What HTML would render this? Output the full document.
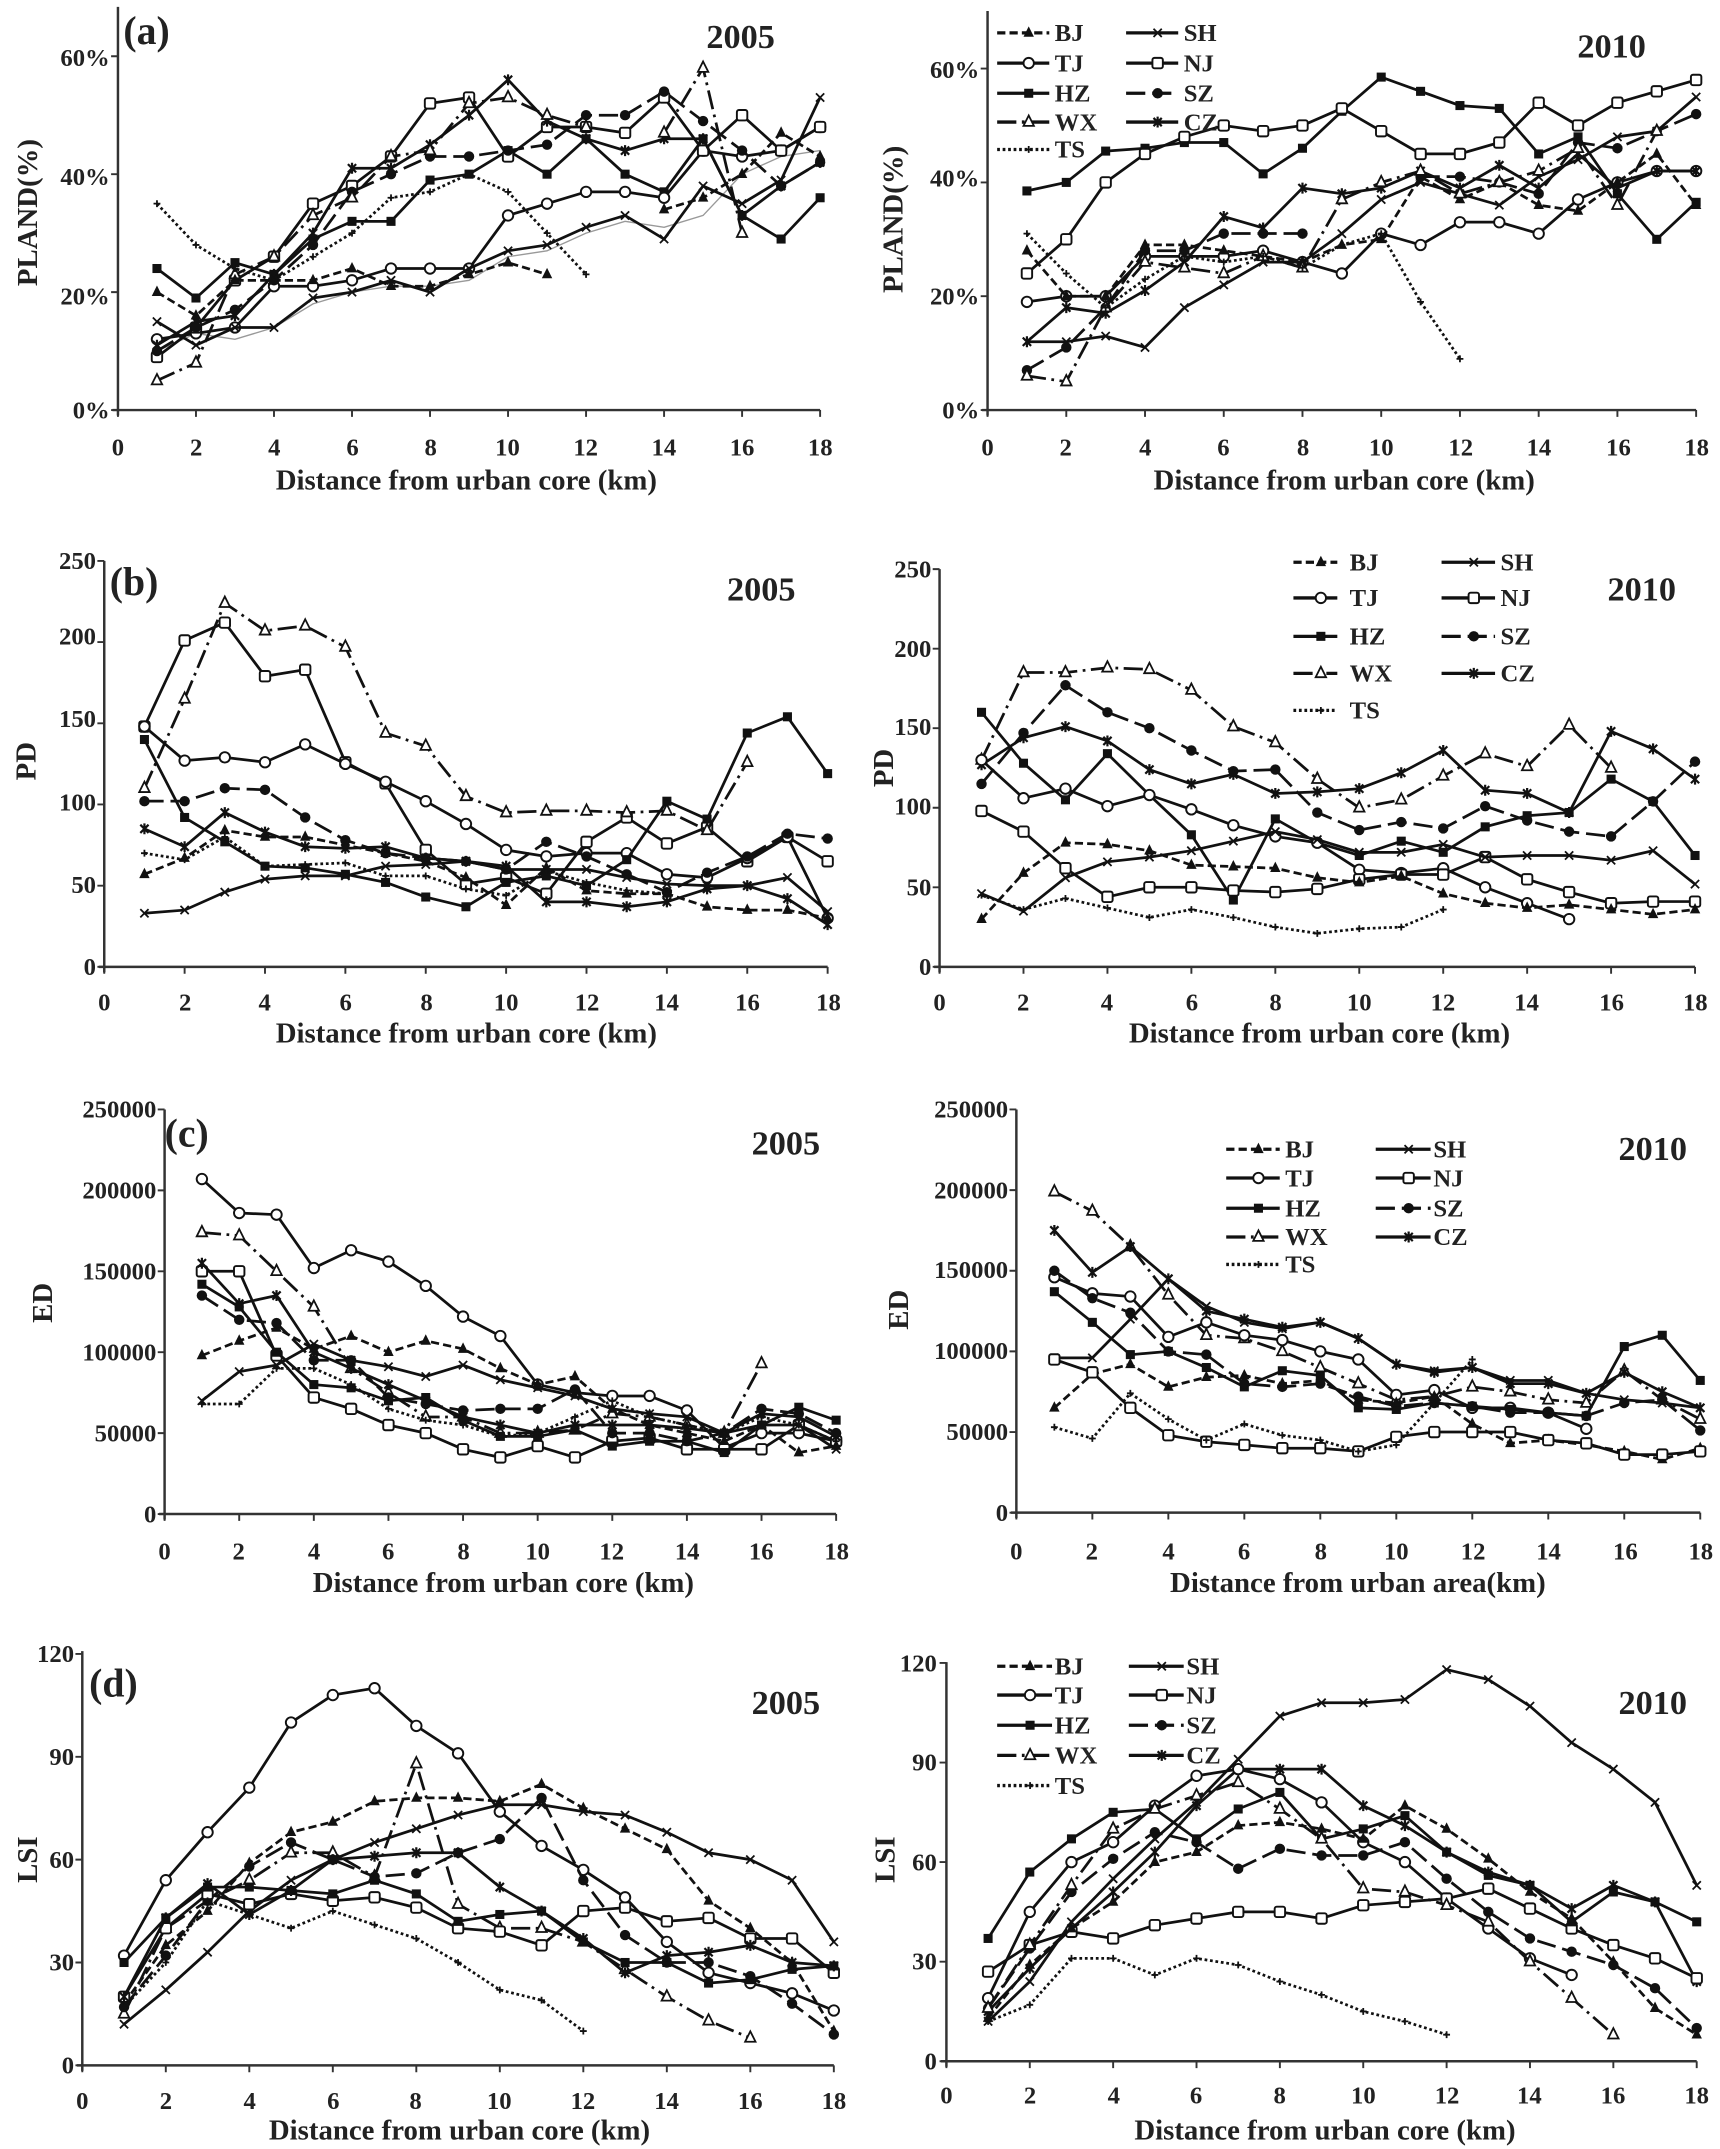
<!DOCTYPE html>
<html><head><meta charset="utf-8"><style>
html,body{margin:0;padding:0;background:#fff;}
svg{display:block;}
text{font-family:"Liberation Serif",serif;font-weight:bold;fill:#222;}
.tk{font-size:18px;}
.ax{font-size:21px;}
.yr{font-size:25px;}
.pl{font-size:29px;}
.lg{font-size:18px;}
</style></head><body>
<svg id="s" width="1720" height="2149" viewBox="0 0 1254 1567" preserveAspectRatio="none" xmlns="http://www.w3.org/2000/svg">
<rect width="1254" height="1567" fill="#fff"/>
<g id="plots"></g>
<text class="pl" x="90" y="32">(a)</text>
<text class="yr" x="515" y="35">2005</text>
<text class="yr" x="1150" y="42">2010</text>
<text class="pl" x="80" y="434">(b)</text>
<text class="yr" x="530" y="438">2005</text>
<text class="yr" x="1172" y="438">2010</text>
<text class="pl" x="120" y="836">(c)</text>
<text class="yr" x="548" y="842">2005</text>
<text class="yr" x="1180" y="846">2010</text>
<text class="pl" x="65" y="1237">(d)</text>
<text class="yr" x="548" y="1250">2005</text>
<text class="yr" x="1180" y="1250">2010</text>
<text class="ax" x="340" y="357" text-anchor="middle">Distance from urban core (km)</text>
<text class="ax" x="980" y="357" text-anchor="middle">Distance from urban core (km)</text>
<text class="ax" x="340" y="760" text-anchor="middle">Distance from urban core (km)</text>
<text class="ax" x="962" y="760" text-anchor="middle">Distance from urban core (km)</text>
<text class="ax" x="367" y="1161" text-anchor="middle">Distance from urban core (km)</text>
<text class="ax" x="990" y="1161" text-anchor="middle">Distance from urban area(km)</text>
<text class="ax" x="335" y="1560" text-anchor="middle">Distance from urban core (km)</text>
<text class="ax" x="966" y="1560" text-anchor="middle">Distance from urban core (km)</text>
<text class="ax" transform="translate(27,155) rotate(-90)" text-anchor="middle">PLAND(%)</text>
<text class="ax" transform="translate(658,160) rotate(-90)" text-anchor="middle">PLAND(%)</text>
<text class="ax" transform="translate(26,555) rotate(-90)" text-anchor="middle">PD</text>
<text class="ax" transform="translate(651,560) rotate(-90)" text-anchor="middle">PD</text>
<text class="ax" transform="translate(38,950) rotate(-90)" text-anchor="middle">ED</text>
<text class="ax" transform="translate(662,955) rotate(-90)" text-anchor="middle">ED</text>
<text class="ax" transform="translate(27,1356) rotate(-90)" text-anchor="middle">LSI</text>
<text class="ax" transform="translate(652,1356) rotate(-90)" text-anchor="middle">LSI</text>
<g class="tk" text-anchor="end">
<text x="80" y="305">0%</text><text x="80" y="222">20%</text><text x="80" y="135">40%</text><text x="80" y="48">60%</text>
<text x="714" y="305">0%</text><text x="714" y="222">20%</text><text x="714" y="136">40%</text><text x="714" y="57">60%</text>
<text x="70" y="711">0</text><text x="70" y="651">50</text><text x="70" y="591">100</text><text x="70" y="530">150</text><text x="70" y="470">200</text><text x="70" y="415">250</text>
<text x="679" y="711">0</text><text x="679" y="653">50</text><text x="679" y="594">100</text><text x="679" y="536">150</text><text x="679" y="479">200</text><text x="679" y="421">250</text>
<text x="114" y="1110">0</text><text x="114" y="1051">50000</text><text x="114" y="992">100000</text><text x="114" y="933">150000</text><text x="114" y="874">200000</text><text x="114" y="815">250000</text>
<text x="735" y="1109">0</text><text x="735" y="1050">50000</text><text x="735" y="991">100000</text><text x="735" y="932">150000</text><text x="735" y="874">200000</text><text x="735" y="815">250000</text>
<text x="54" y="1512">0</text><text x="54" y="1437">30</text><text x="54" y="1362">60</text><text x="54" y="1287">90</text><text x="54" y="1212">120</text>
<text x="683" y="1509">0</text><text x="683" y="1436">30</text><text x="683" y="1364">60</text><text x="683" y="1291">90</text><text x="683" y="1219">120</text>
</g>
<g class="tk" text-anchor="middle">
<text x="86" y="332">0</text><text x="143" y="332">2</text><text x="200" y="332">4</text><text x="257" y="332">6</text><text x="314" y="332">8</text><text x="370" y="332">10</text><text x="427" y="332">12</text><text x="484" y="332">14</text><text x="541" y="332">16</text><text x="598" y="332">18</text>
<text x="720" y="332">0</text><text x="777" y="332">2</text><text x="835" y="332">4</text><text x="892" y="332">6</text><text x="950" y="332">8</text><text x="1007" y="332">10</text><text x="1065" y="332">12</text><text x="1122" y="332">14</text><text x="1180" y="332">16</text><text x="1237" y="332">18</text>
<text x="76" y="737">0</text><text x="135" y="737">2</text><text x="193" y="737">4</text><text x="252" y="737">6</text><text x="311" y="737">8</text><text x="369" y="737">10</text><text x="428" y="737">12</text><text x="486" y="737">14</text><text x="545" y="737">16</text><text x="604" y="737">18</text>
<text x="685" y="737">0</text><text x="746" y="737">2</text><text x="807" y="737">4</text><text x="869" y="737">6</text><text x="930" y="737">8</text><text x="991" y="737">10</text><text x="1052" y="737">12</text><text x="1113" y="737">14</text><text x="1175" y="737">16</text><text x="1236" y="737">18</text>
<text x="120" y="1137">0</text><text x="174" y="1137">2</text><text x="229" y="1137">4</text><text x="283" y="1137">6</text><text x="338" y="1137">8</text><text x="392" y="1137">10</text><text x="446" y="1137">12</text><text x="501" y="1137">14</text><text x="555" y="1137">16</text><text x="610" y="1137">18</text>
<text x="741" y="1137">0</text><text x="796" y="1137">2</text><text x="852" y="1137">4</text><text x="907" y="1137">6</text><text x="963" y="1137">8</text><text x="1018" y="1137">10</text><text x="1074" y="1137">12</text><text x="1129" y="1137">14</text><text x="1185" y="1137">16</text><text x="1240" y="1137">18</text>
<text x="60" y="1538">0</text><text x="121" y="1538">2</text><text x="182" y="1538">4</text><text x="243" y="1538">6</text><text x="303" y="1538">8</text><text x="364" y="1538">10</text><text x="425" y="1538">12</text><text x="486" y="1538">14</text><text x="547" y="1538">16</text><text x="608" y="1538">18</text>
<text x="690" y="1534">0</text><text x="751" y="1534">2</text><text x="812" y="1534">4</text><text x="872" y="1534">6</text><text x="933" y="1534">8</text><text x="994" y="1534">10</text><text x="1055" y="1534">12</text><text x="1115" y="1534">14</text><text x="1176" y="1534">16</text><text x="1237" y="1534">18</text>
</g>
<g class="lg">
<text x="769" y="30">BJ</text><text x="863" y="30">SH</text>
<text x="769" y="52">TJ</text><text x="863" y="52">NJ</text>
<text x="769" y="74">HZ</text><text x="863" y="74">SZ</text>
<text x="769" y="95">WX</text><text x="863" y="95">CZ</text>
<text x="769" y="115">TS</text>
<text x="984" y="416">BJ</text><text x="1094" y="416">SH</text>
<text x="984" y="442">TJ</text><text x="1094" y="442">NJ</text>
<text x="984" y="470">HZ</text><text x="1094" y="470">SZ</text>
<text x="984" y="497">WX</text><text x="1094" y="497">CZ</text>
<text x="984" y="524">TS</text>
<text x="937" y="844">BJ</text><text x="1045" y="844">SH</text>
<text x="937" y="865">TJ</text><text x="1045" y="865">NJ</text>
<text x="937" y="887">HZ</text><text x="1045" y="887">SZ</text>
<text x="937" y="908">WX</text><text x="1045" y="908">CZ</text>
<text x="937" y="928">TS</text>
<text x="769" y="1221">BJ</text><text x="865" y="1221">SH</text>
<text x="769" y="1242">TJ</text><text x="865" y="1242">NJ</text>
<text x="769" y="1264">HZ</text><text x="865" y="1264">SZ</text>
<text x="769" y="1286">WX</text><text x="865" y="1286">CZ</text>
<text x="769" y="1308">TS</text>
</g>
</svg>
<script>
(function(){
var NS="http://www.w3.org/2000/svg",G=document.getElementById("plots");
function el(t,a){var e=document.createElementNS(NS,t);for(var k in a)e.setAttribute(k,a[k]);G.appendChild(e);return e;}
var ST={BJ:{d:"6,3",m:"tf"},SH:{d:"",m:"x"},TJ:{d:"",m:"co"},NJ:{d:"",m:"so"},HZ:{d:"",m:"sf"},SZ:{d:"14,5",m:"cf"},WX:{d:"14,4,2,4",m:"to"},CZ:{d:"",m:"ast"},TS:{d:"2,2",m:"p"},GR:{d:"",m:""}};
function mark(m,x,y){var r=3.8,s="#111";
 if(m=="tf")el("polygon",{points:(x)+","+(y-r-1)+" "+(x-r)+","+(y+r-1)+" "+(x+r)+","+(y+r-1),fill:s});
 else if(m=="to")el("polygon",{points:(x)+","+(y-r-1)+" "+(x-r)+","+(y+r-1)+" "+(x+r)+","+(y+r-1),fill:"#fff",stroke:s,"stroke-width":1.3});
 else if(m=="co")el("circle",{cx:x,cy:y,r:r,fill:"#fff",stroke:s,"stroke-width":1.4});
 else if(m=="cf")el("circle",{cx:x,cy:y,r:r,fill:s});
 else if(m=="so")el("rect",{x:x-r,y:y-r,width:2*r,height:2*r,rx:1.5,fill:"#fff",stroke:s,"stroke-width":1.4});
 else if(m=="sf")el("rect",{x:x-r+0.5,y:y-r+0.5,width:2*r-1,height:2*r-1,fill:s});
 else if(m=="x")el("path",{d:"M"+(x-3)+","+(y-3)+"L"+(x+3)+","+(y+3)+"M"+(x-3)+","+(y+3)+"L"+(x+3)+","+(y-3),stroke:s,"stroke-width":1.3});
 else if(m=="ast")el("path",{d:"M"+(x-3)+","+(y-3)+"L"+(x+3)+","+(y+3)+"M"+(x-3)+","+(y+3)+"L"+(x+3)+","+(y-3)+"M"+x+","+(y-4)+"L"+x+","+(y+4),stroke:s,"stroke-width":1.6});
 else if(m=="p")el("path",{d:"M"+(x-2.5)+","+y+"L"+(x+2.5)+","+y+"M"+x+","+(y-2.5)+"L"+x+","+(y+2.5),stroke:s,"stroke-width":1.3});
}
function panel(P){
 var x0=P.x0,dx=P.dx,y0=P.y0,k=P.k;
 el("path",{d:"M"+x0+","+P.top+"L"+x0+","+(y0+4)+"M"+(x0-4)+","+y0+"L"+(x0+18*dx)+","+y0,stroke:"#333",fill:"none","stroke-width":1.8});
 var t="";for(var i=0;i<=18;i+=2){t+="M"+(x0+i*dx)+","+y0+"L"+(x0+i*dx)+","+(y0+5);}
 for(var j=0;j<P.yt.length;j++){var yy=y0-P.yt[j]*k;t+="M"+(x0-5)+","+yy+"L"+x0+","+yy;}
 el("path",{d:t,stroke:"#333","stroke-width":1.4});
 for(var n in P.s){var st=ST[n],v=P.s[n],seg=[];
  function flush(){if(seg.length>1){var a={points:seg.join(" "),fill:"none",stroke:n=="GR"?"#999":"#111","stroke-width":n=="GR"?1:2};if(st.d)a["stroke-dasharray"]=st.d;el("polyline",a);}seg=[];}
  for(var i=0;i<v.length;i++){if(v[i]==null){flush();continue;}seg.push((x0+(i+1)*dx).toFixed(1)+","+(y0-v[i]*k).toFixed(1));}
  flush();
  if(st.m)for(var i=0;i<v.length;i++)if(v[i]!=null)mark(st.m,x0+(i+1)*dx,y0-v[i]*k);
 }
 if(P.lg){var L=P.lg,names=[["BJ","SH"],["TJ","NJ"],["HZ","SZ"],["WX","CZ"],["TS",null]];
  for(var r=0;r<5;r++)for(var c=0;c<2;c++){var n=names[r][c];if(!n)continue;var st=ST[n];var xa=L.cx[c][0],xb=L.cx[c][1],y=L.rows[r];
   var a={points:xa+","+y+" "+xb+","+y,stroke:"#111","stroke-width":2.4,fill:"none"};if(st.d)a["stroke-dasharray"]=st.d;el("polyline",a);mark(st.m,(xa+xb)/2+4,y);}
 }
}
var N=null;
panel({x0:86,dx:28.44,y0:299,k:4.3,top:5,yt:[0,20,40,60],s:{
 GR:[10,13,12,14,18,20,21,21,22,26,27,30,32,31,33,40,43,44],
 HZ:[24,19,25,23,29,32,32,39,40,44,40,46,40,37,46,33,29,36],
 TJ:[12,13,14,21,21,22,24,24,24,33,35,37,37,36,44,43,44,48],
 NJ:[9,14,22,26,35,38,43,52,53,43,48,48,47,53,44,50,44,48],
 SH:[15,11,14,14,19,20,22,20,24,27,28,31,33,29,38,35,39,53],
 CZ:[11,15,16,23,30,41,41,45,50,56,49,46,44,46,46,33,38,42],
 SZ:[10,14,17,22,28,37,40,43,43,44,45,50,50,54,49,44,38,42],
 WX:[5,8,23,26,33,36,43,44,52,53,50,48,N,47,58,30,N,N],
 BJ:[20,16,22,22,22,24,21,21,23,25,23,N,N,34,36,40,47,43],
 TS:[35,28,24,22,26,30,36,37,40,37,30,23]}});
panel({x0:720,dx:28.7,y0:299,k:4.15,top:8,yt:[0,20,40,60],lg:{cx:[[727,765],[821,859]],rows:[24,46,68,89,109]},s:{
 HZ:[38.5,40,45.5,46,47,47,41.5,46,52.5,58.5,56,53.5,53,45,48,38,30,36.5],
 NJ:[24,30,40,45,48,50,49,50,53,49,45,45,47,54,50,54,56,58],
 TJ:[19,20,20,27,27,27,28,26,24,31,29,33,33,31,37,40,42,42],
 SH:[12,12,13,11,18,22,26,26,31,37,40,38,36,41,44,48,49,55],
 CZ:[12,18,17,21,26,34,32,39,38,39,42,39,43,39,45,39,42,42],
 SZ:[7,11,18,28,28,31,31,31,N,N,41,41,40,38,47,46,49,52],
 BJ:[28,20,20,29,29,28,27,26,29,30,41,37,40,36,35,40,45,36],
 WX:[6,5,18,26,25,24,27,25,37,40,42,38,40,42,46,36,49,N],
 TS:[31,24,18,23,27,26,27,25,29,31,19,9]}});
panel({x0:76,dx:29.3,y0:705,k:1.184,top:409,yt:[0,50,100,150,200,250],s:{
 NJ:[148,201,212,179,183,126,113,72,51,55,45,77,92,76,86,65,80,65],
 TJ:[148,127,129,126,137,125,114,102,88,72,68,70,70,57,55,67,80,30],
 WX:[110,165,224,207,210,197,144,136,105,95,96,96,95,96,84,126,N,N],
 SZ:[102,102,110,109,92,78,70,67,65,60,77,68,57,46,58,68,82,79],
 HZ:[140,92,77,62,61,57,52,43,37,52,56,50,66,102,91,144,154,119],
 BJ:[57,67,84,80,80,75,70,65,55,38,61,47,45,45,37,35,35,30],
 SH:[33,35,46,54,56,56,62,63,65,60,60,60,55,51,50,50,55,34],
 CZ:[85,74,95,83,74,73,74,67,65,62,40,40,37,40,48,50,42,26],
 TS:[70,66,80,62,63,64,56,56,48,44,59,52,47,45]}});
panel({x0:685,dx:30.6,y0:705,k:1.16,top:415,yt:[0,50,100,150,200,250],lg:{cx:[[943,975],[1051,1090]],rows:[410,436,464,491,518]},s:{
 WX:[130,185,185,188,187,174,151,141,118,100,105,120,134,126,152,125,N,N],
 SZ:[115,147,177,160,150,136,123,124,97,86,91,87,101,92,85,82,104,129],
 CZ:[127,144,151,142,124,115,121,109,110,112,122,136,111,109,97,148,137,118],
 HZ:[160,128,105,134,108,83,42,93,78,70,79,72,88,95,97,118,104,70],
 TJ:[130,106,112,101,108,99,89,82,78,61,59,62,50,40,30],
 NJ:[98,85,62,44,50,50,48,47,49,55,58,58,69,55,47,40,41,41],
 SH:[46,35,56,66,69,73,79,85,80,72,72,77,69,70,70,67,73,52],
 BJ:[30,59,78,77,73,64,63,62,56,53,57,46,40,37,39,36,33,36],
 TS:[45,36,43,37,31,36,31,25,21,24,25,36]}});
panel({x0:120,dx:27.2,y0:1104,k:1.18,top:809,yt:[0,50,100,150,200,250],s:{
 TJ:[207,186,185,152,163,156,141,122,110,80,75,73,73,64,41,50,50,45],
 WX:[174,172,150,128,90,75,60,60,50,50,52,62,60,55,50,93,N,N],
 NJ:[150,150,98,72,65,55,50,40,35,42,35,45,47,40,40,40,55,45],
 SH:[70,88,92,105,95,91,85,92,83,78,73,65,62,60,50,55,55,40],
 BJ:[98,107,115,102,110,100,107,102,90,80,85,65,55,50,45,55,38,42],
 CZ:[155,130,135,100,90,80,70,60,55,50,55,55,55,53,50,62,60,48],
 HZ:[142,128,100,80,78,70,72,58,48,48,52,42,45,45,38,55,66,58],
 SZ:[135,120,118,95,95,72,68,64,65,65,77,50,50,45,50,65,62,50],
 TS:[68,68,90,90,80,65,58,55,48,50,60,70,60,55,50,60,55,45]}});
panel({x0:741,dx:27.7,y0:1103,k:1.176,top:809,yt:[0,50,100,150,200,250],lg:{cx:[[894,933],[1003,1043]],rows:[838,859,881,902,922]},s:{
 WX:[199,187,165,135,110,108,100,90,80,70,72,78,75,70,68,88,70,58],
 CZ:[175,149,165,145,125,120,115,118,108,92,87,90,80,80,74,87,75,65],
 TJ:[146,136,134,109,118,110,107,100,95,73,76,65,65,62,52],
 SH:[96,96,120,145,128,118,114,118,108,92,88,90,82,82,74,70,68,65],
 HZ:[137,118,98,100,90,78,88,85,65,64,68,66,64,62,60,103,110,82],
 SZ:[150,133,124,100,98,80,78,80,72,66,68,66,62,62,60,68,70,51],
 BJ:[65,86,92,78,84,85,80,82,70,68,72,55,43,45,42,38,33,40],
 NJ:[95,87,65,48,44,42,40,40,38,47,50,50,50,45,43,36,36,38],
 TS:[53,46,74,58,45,55,48,45,38,42,68,95]}});
panel({x0:60,dx:30.44,y0:1506,k:2.5,top:1204,yt:[0,30,60,90,120],s:{
 TJ:[32,54,68,81,100,108,110,99,91,74,64,57,49,36,27,24,21,16],
 SH:[12,22,33,45,54,60,65,69,73,76,76,74,73,68,62,60,54,36],
 BJ:[18,35,45,59,68,71,77,78,78,77,82,75,69,63,48,40,30,10],
 WX:[15,40,48,54,62,62,55,88,47,40,40,36,28,20,13,8,N,N],
 SZ:[17,32,48,58,65,60,55,56,62,66,78,54,38,30,30,26,18,9],
 NJ:[20,40,50,47,50,48,49,46,40,39,35,45,46,42,43,37,37,27],
 HZ:[30,43,52,52,51,50,54,50,42,44,45,36,30,30,24,25,28,29],
 CZ:[20,43,53,44,51,60,61,62,62,52,45,37,27,32,33,35,30,29],
 TS:[17,30,48,44,40,45,41,37,30,22,19,10]}});
panel({x0:690,dx:30.39,y0:1503,k:2.42,top:1212,yt:[0,30,60,90,120],lg:{cx:[[727,767],[823,863]],rows:[1215,1236,1258,1280,1302]},s:{
 SH:[12,24,42,55,67,78,91,104,108,108,109,118,115,107,96,88,78,53],
 CZ:[15,28,40,51,63,77,88,88,88,77,71,63,57,53,46,53,48,24],
 TJ:[19,45,60,66,77,86,88,85,78,66,60,49,40,31,26],
 NJ:[27,35,39,37,41,43,45,45,43,47,48,49,52,46,40,35,31,25],
 HZ:[37,57,67,75,76,67,76,81,67,70,74,63,56,53,42,51,48,42],
 BJ:[13,29,40,48,60,63,71,72,70,67,77,70,61,51,43,30,16,8],
 SZ:[16,34,51,61,69,66,58,64,62,62,66,55,45,37,33,29,22,10],
 WX:[16,35,53,70,76,80,84,76,67,52,51,47,42,30,19,8,N,N],
 TS:[12,17,31,31,26,31,29,24,20,15,12,8]}});
})();
</script>
</body></html>
